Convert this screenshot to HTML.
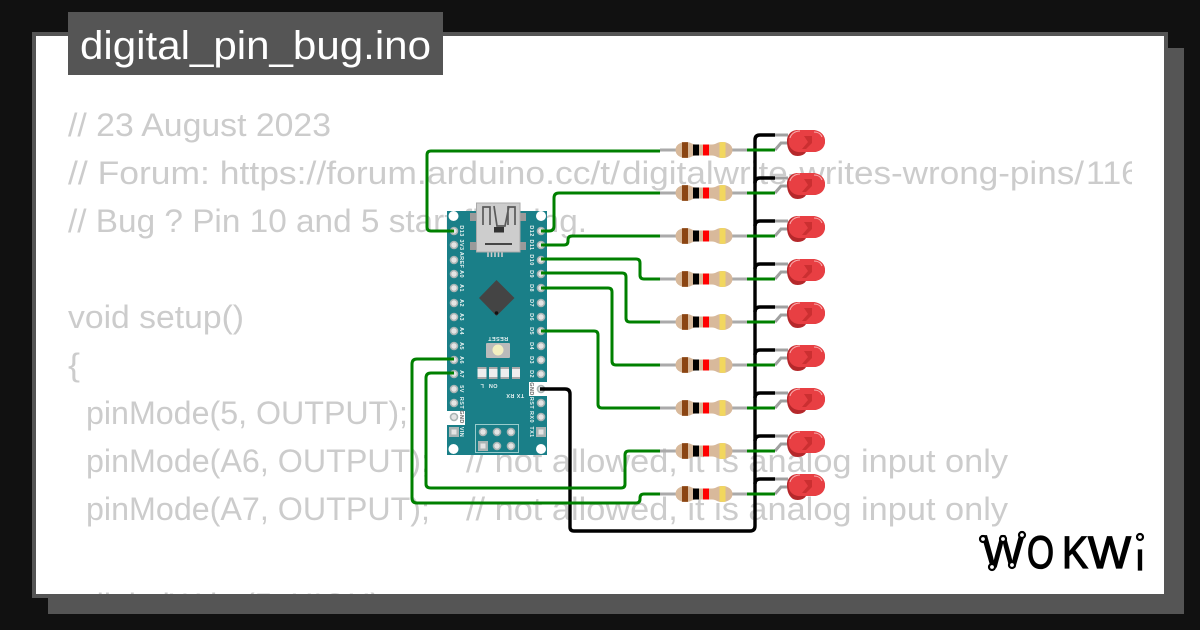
<!DOCTYPE html>
<html><head><meta charset="utf-8">
<style>
html,body{margin:0;padding:0;background:#111;width:1200px;height:630px;overflow:hidden}
svg{display:block}
.c{font-family:"Liberation Sans",sans-serif;font-size:32px;fill:#ccc;white-space:pre}
.l{font-family:"Liberation Sans",sans-serif;font-size:5.500px;font-weight:bold;fill:#e8f2f2;letter-spacing:.4px}
.g{fill:none;stroke:#008000;stroke-width:3;stroke-linejoin:round}
.k{fill:none;stroke:#000;stroke-width:3.400;stroke-linejoin:round}
.w{font-family:"Liberation Sans",sans-serif;font-size:45px;fill:#000;stroke:#000;stroke-width:1.300}
</style></head><body>
<svg width="1200" height="630" viewBox="0 0 1200 630">
<defs>
<clipPath id="cc"><rect x="36" y="36" width="1096" height="558"/></clipPath>
<g id="res">
<path d="M660 0H676M732 0H747" stroke="#aaa" stroke-width="3"/>
<path d="M675.500 0C675.500-5 680-8 686-8C691-8 692-5.500 696-5.500H712C716-5.500 717-8 722-8C728-8 732.500-5 732.500 0C732.500 5 728 8 722 8C717 8 716 5.500 712 5.500H696C692 5.500 691 8 686 8C680 8 675.500 5 675.500 0Z" fill="#d8b99b"/>
<rect x="682" y="-7.800" width="6" height="15.600" fill="#8b4513"/>
<rect x="693" y="-5.500" width="6" height="11" fill="#000"/>
<rect x="703" y="-5.500" width="6" height="11" fill="#f00"/>
<rect x="719.500" y="-7.800" width="6" height="15.600" fill="#f2d75e"/>
</g>
<g id="led">
<path d="M775 0H788M775 15L781 8H790" fill="none" stroke="#a0a0a0" stroke-width="3"/>
<path d="M787 6C787 0 791-5 798-5H812C820-5 825 0 825 6C825 13 820 17 813 17H806C804 21 797 22 793 20C789 17 787 13 787 6Z" fill="#b5282b"/>
<path d="M788.500 6C788.500 0 793-5 798-5H812C820-5 825 0 825 6C825 13 820 17 813 17H802C794 18 788.500 13 788.500 6Z" fill="#e83f43"/>
<path d="M804 1H812V8L806 14H802L808 7Z" fill="#cb2f31"/>
<path d="M790 3C791-1 795-4 800-4M814-3C818-3 821-1 822 2" fill="none" stroke="#f7b0b0" stroke-width="1"/>
</g>
<g id="p"><circle r="4.300" fill="#a9b4b4"/><circle r="2.700" fill="#e4e4e4"/></g>
</defs>
<!-- frame -->
<rect x="48" y="48" width="1136" height="566" fill="#555"/>
<rect x="34" y="34" width="1132" height="562" fill="#fff" stroke="#555" stroke-width="4"/>
<!-- code -->
<g clip-path="url(#cc)">
<text class="c" x="68" y="136" textLength="263" lengthAdjust="spacingAndGlyphs">// 23 August 2023</text>
<text class="c" x="68" y="184" textLength="552" lengthAdjust="spacingAndGlyphs">// Forum: https://forum.arduino.cc/t/</text>
<text class="c" x="622" y="184" textLength="462" lengthAdjust="spacingAndGlyphs">digitalwrite-writes-wrong-pins/</text>
<text class="c" x="1086" y="184" textLength="54" lengthAdjust="spacingAndGlyphs">116</text>
<text class="c" x="68" y="232" textLength="519" lengthAdjust="spacingAndGlyphs">// Bug ? Pin 10 and 5 start flashing.</text>
<text class="c" x="68" y="328" textLength="176" lengthAdjust="spacingAndGlyphs">void setup()</text>
<text class="c" x="68" y="376" textLength="12" lengthAdjust="spacingAndGlyphs">{</text>
<text class="c" x="86" y="424" textLength="322" lengthAdjust="spacingAndGlyphs">pinMode(5, OUTPUT);</text>
<text class="c" x="86" y="472" textLength="344" lengthAdjust="spacingAndGlyphs">pinMode(A6, OUTPUT);</text>
<text class="c" x="466" y="472" textLength="542" lengthAdjust="spacingAndGlyphs">// not allowed, it is analog input only</text>
<text class="c" x="86" y="520" textLength="344" lengthAdjust="spacingAndGlyphs">pinMode(A7, OUTPUT);</text>
<text class="c" x="466" y="520" textLength="542" lengthAdjust="spacingAndGlyphs">// not allowed, it is analog input only</text>
<text class="c" x="86" y="616" textLength="304" lengthAdjust="spacingAndGlyphs">digitalWrite(5, HIGH);</text>
</g>
<!-- title -->
<rect x="68" y="12" width="375" height="63" fill="#555"/>
<text x="80" y="59" font-family="'Liberation Sans',sans-serif" font-size="40" fill="#fff" textLength="351" lengthAdjust="spacingAndGlyphs">digital_pin_bug.ino</text>
<!-- board -->
<rect x="447" y="211" width="100" height="244" fill="#1a7f88"/>
<g fill="#fff"><circle cx="453.500" cy="216" r="5"/><circle cx="541" cy="216" r="5"/><circle cx="453.500" cy="449" r="5"/><circle cx="541" cy="449" r="5"/></g>
<rect x="529" y="382" width="18" height="14" fill="#fff"/>
<rect x="447" y="411" width="18" height="14" fill="#fff"/>
<!-- usb -->
<g fill="#9a9a9a"><rect x="470" y="213" width="7" height="8"/><rect x="470" y="242" width="7" height="8"/><rect x="520" y="213" width="6" height="8"/><rect x="520" y="242" width="6" height="8"/></g>
<path d="M488 252v5M491.500 252v5M495 252v5M498.500 252v5M502 252v5" stroke="#ccc" stroke-width="1.600"/>
<rect x="476.500" y="203" width="43.500" height="49" fill="#cdcdcd" stroke="#aaa"/>
<path d="M483 225V207H490V225M508 225V207H515V225M494 206L497 226H505L509 206" fill="none" stroke="#5a5a5a" stroke-width="1.700"/>
<rect x="494" y="227" width="10" height="5.500" fill="#333"/>
<path d="M485 244H512" stroke="#333" stroke-width="1.700"/>
<!-- chip -->
<path d="M496.500 280L514.500 298L496.500 316L479 298Z" fill="#444"/>
<circle cx="496.500" cy="313" r="1.800" fill="#111"/>
<!-- reset -->
<rect x="486" y="343" width="24" height="15" rx="1" fill="#bbb"/>
<circle cx="498" cy="350" r="5.500" fill="#f3efc0"/>
<text class="l" x="498" y="341" text-anchor="middle" transform="rotate(180 498 339)">RESET</text>
<!-- status leds -->
<g fill="#eee"><rect x="477.500" y="367" width="9" height="12"/><rect x="489" y="367" width="8.500" height="12"/><rect x="500.500" y="367" width="8.500" height="12"/><rect x="512" y="367" width="8" height="12"/></g>
<g fill="#aaa"><rect x="477.500" y="367" width="9" height="2"/><rect x="489" y="367" width="8.500" height="2"/><rect x="500.500" y="367" width="8.500" height="2"/><rect x="512" y="367" width="8" height="2"/><rect x="477.500" y="377" width="9" height="2"/><rect x="489" y="377" width="8.500" height="2"/><rect x="500.500" y="377" width="8.500" height="2"/><rect x="512" y="377" width="8" height="2"/></g>
<text class="l" transform="rotate(180 482 384)" x="482" y="384" text-anchor="middle">L</text>
<text class="l" transform="rotate(180 493 384)" x="493" y="384" text-anchor="middle">ON</text>
<text class="l" transform="rotate(180 515 394)" x="515" y="394" text-anchor="middle">TX RX</text>
<!-- icsp -->
<rect x="475.500" y="424.500" width="43" height="28" fill="none" stroke="#9cc" stroke-width="1"/>
<rect x="478" y="441" width="10" height="10" fill="#a9b4b4"/><rect x="480.500" y="443.500" width="5" height="5" fill="#e4e4e4"/>
<use href="#p" x="483" y="432"/><use href="#p" x="497" y="432"/><use href="#p" x="511" y="432"/><use href="#p" x="497" y="446"/><use href="#p" x="511" y="446"/>
<!-- pins -->
<g>
<use href="#p" x="454" y="231"/><use href="#p" x="454" y="245"/><use href="#p" x="454" y="260"/><use href="#p" x="454" y="274"/><use href="#p" x="454" y="288"/><use href="#p" x="454" y="303"/><use href="#p" x="454" y="317"/><use href="#p" x="454" y="331"/><use href="#p" x="454" y="346"/><use href="#p" x="454" y="360"/><use href="#p" x="454" y="374"/><use href="#p" x="454" y="389"/><use href="#p" x="454" y="403"/><use href="#p" x="454" y="417"/>
<rect x="449" y="427" width="10" height="10" fill="#a9b4b4"/><rect x="451.500" y="429.500" width="5" height="5" fill="#e4e4e4"/>
<use href="#p" x="541" y="231"/><use href="#p" x="541" y="245"/><use href="#p" x="541" y="260"/><use href="#p" x="541" y="274"/><use href="#p" x="541" y="288"/><use href="#p" x="541" y="303"/><use href="#p" x="541" y="317"/><use href="#p" x="541" y="331"/><use href="#p" x="541" y="346"/><use href="#p" x="541" y="360"/><use href="#p" x="541" y="374"/><use href="#p" x="541" y="389"/><use href="#p" x="541" y="403"/><use href="#p" x="541" y="417"/>
<rect x="536" y="427" width="10" height="10" fill="#a9b4b4"/><rect x="538.500" y="429.500" width="5" height="5" fill="#e4e4e4"/>
</g>
<!-- pin labels -->
<g>
<text class="l" transform="translate(460,231) rotate(90)" text-anchor="middle">D13</text>
<text class="l" transform="translate(460,245) rotate(90)" text-anchor="middle">3V3</text>
<text class="l" transform="translate(460,260) rotate(90)" text-anchor="middle">AREF</text>
<text class="l" transform="translate(460,274) rotate(90)" text-anchor="middle">A0</text>
<text class="l" transform="translate(460,288) rotate(90)" text-anchor="middle">A1</text>
<text class="l" transform="translate(460,303) rotate(90)" text-anchor="middle">A2</text>
<text class="l" transform="translate(460,317) rotate(90)" text-anchor="middle">A3</text>
<text class="l" transform="translate(460,331) rotate(90)" text-anchor="middle">A4</text>
<text class="l" transform="translate(460,346) rotate(90)" text-anchor="middle">A5</text>
<text class="l" transform="translate(460,360) rotate(90)" text-anchor="middle">A6</text>
<text class="l" transform="translate(460,374) rotate(90)" text-anchor="middle">A7</text>
<text class="l" transform="translate(460,389) rotate(90)" text-anchor="middle">5V</text>
<text class="l" transform="translate(460,403) rotate(90)" text-anchor="middle">RST</text>
<text class="l" style="fill:#666" transform="translate(460,417) rotate(90)" text-anchor="middle">GND</text>
<text class="l" transform="translate(460,432) rotate(90)" text-anchor="middle">VIN</text>
<text class="l" transform="translate(530,231) rotate(90)" text-anchor="middle">D12</text>
<text class="l" transform="translate(530,245) rotate(90)" text-anchor="middle">D11</text>
<text class="l" transform="translate(530,260) rotate(90)" text-anchor="middle">D10</text>
<text class="l" transform="translate(530,274) rotate(90)" text-anchor="middle">D9</text>
<text class="l" transform="translate(530,288) rotate(90)" text-anchor="middle">D8</text>
<text class="l" transform="translate(530,303) rotate(90)" text-anchor="middle">D7</text>
<text class="l" transform="translate(530,317) rotate(90)" text-anchor="middle">D6</text>
<text class="l" transform="translate(530,331) rotate(90)" text-anchor="middle">D5</text>
<text class="l" transform="translate(530,346) rotate(90)" text-anchor="middle">D4</text>
<text class="l" transform="translate(530,360) rotate(90)" text-anchor="middle">D3</text>
<text class="l" transform="translate(530,374) rotate(90)" text-anchor="middle">D2</text>
<text class="l" style="fill:#666" transform="translate(530,389) rotate(90)" text-anchor="middle">GND</text>
<text class="l" transform="translate(530,403) rotate(90)" text-anchor="middle">RST</text>
<text class="l" transform="translate(530,417) rotate(90)" text-anchor="middle">RX0</text>
<text class="l" transform="translate(530,432) rotate(90)" text-anchor="middle">TX1</text>
</g>
<!-- resistors -->
<use href="#res" y="150"/><use href="#res" y="193"/><use href="#res" y="236"/><use href="#res" y="279"/><use href="#res" y="322"/><use href="#res" y="365"/><use href="#res" y="408"/><use href="#res" y="451"/><use href="#res" y="494"/>
<!-- leds -->
<use href="#led" y="135"/><use href="#led" y="178"/><use href="#led" y="221"/><use href="#led" y="264"/><use href="#led" y="307"/><use href="#led" y="350"/><use href="#led" y="393"/><use href="#led" y="436"/><use href="#led" y="479"/>
<!-- black wires -->
<path class="k" d="M540 389H565Q570 389 570 394V527Q570 531 574 531H750Q755 531 755 526V140Q755 135 760 135H775"/>
<path class="k" d="M755 183Q755 178 760 178H775M755 226Q755 221 760 221H775M755 269Q755 264 760 264H775M755 312Q755 307 760 307H775M755 355Q755 350 760 350H775M755 398Q755 393 760 393H775M755 441Q755 436 760 436H775M755 484Q755 479 760 479H775"/>
<!-- green wires -->
<path class="g" d="M747 150H775M747 193H775M747 236H775M747 279H775M747 322H775M747 365H775M747 408H775M747 451H775M747 494H775"/>
<path class="g" d="M454 231H431Q427 231 427 227V155Q427 151 431 151H660"/>
<path class="g" d="M541 231H549Q554 231 554 226V198Q554 193 559 193H660"/>
<path class="g" d="M541 245H564Q568 245 568 241V240Q568 236 572 236H660"/>
<path class="g" d="M541 259H636Q640 259 640 263V275Q640 279 644 279H660"/>
<path class="g" d="M541 273H622Q626 273 626 277V318Q626 322 630 322H660"/>
<path class="g" d="M541 288H608Q612 288 612 292V361Q612 365 616 365H660"/>
<path class="g" d="M541 331H594Q598 331 598 335V404Q598 408 602 408H660"/>
<path class="g" d="M454 359H417Q412 359 412 364V498Q412 503 417 503H636Q640 503 640 499V498Q640 494 644 494H660"/>
<path class="g" d="M454 373H431Q426 373 426 378V484Q426 488 431 488H621Q625 488 625 484V455Q625 451 629 451H660"/>
<!-- logo -->
<text class="w" x="982" y="567" textLength="42" lengthAdjust="spacingAndGlyphs">W</text>
<text class="w" x="1027" y="568" textLength="27" lengthAdjust="spacingAndGlyphs">O</text>
<text class="w" x="1062" y="568" textLength="26" lengthAdjust="spacingAndGlyphs">K</text>
<text class="w" x="1088" y="568" textLength="43" lengthAdjust="spacingAndGlyphs">W</text>
<text class="w" x="1135" y="570" textLength="10" lengthAdjust="spacingAndGlyphs" style="font-size:38px">ı</text>
<g fill="#fff" stroke="#000" stroke-width="2.200"><circle cx="983" cy="539" r="3"/><circle cx="1003" cy="539" r="3"/><circle cx="1022" cy="535" r="3"/><circle cx="992" cy="567" r="3"/><circle cx="1012" cy="565" r="3"/><circle cx="1140" cy="537" r="3"/></g>
</svg>
</body></html>
